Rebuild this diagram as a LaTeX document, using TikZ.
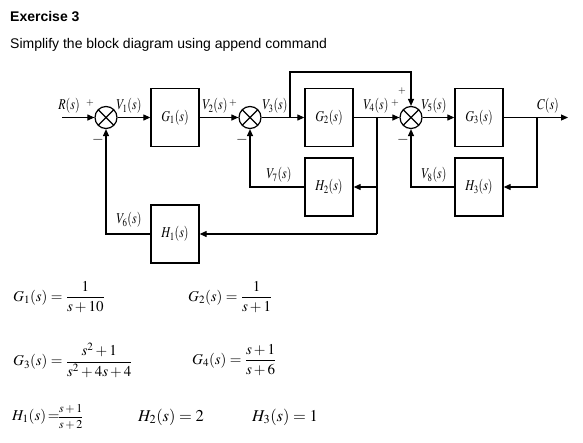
\documentclass[tikz,border=0pt]{standalone}
\usepackage{amsmath}
\usepackage{graphicx}
\usepackage{mathptmx}
\usepackage[no-math]{fontspec}
\setmainfont{Liberation Serif}
\newfontfamily\arial{Liberation Sans}
\usetikzlibrary{arrows.meta}
\newcommand{\lblfont}{\fontsize{15}{17}\selectfont}
\newcommand{\eqfont}{\fontsize{15}{18}\selectfont}
\newcommand{\sgnfont}{\fontsize{10}{12}\selectfont}
\newcommand{\lb}[1]{\scalebox{0.8}[1]{$#1$}}
\tikzset{
  block/.style={draw, line width=1.3pt, minimum width=48pt, minimum height=58pt, inner sep=0pt, font=\lblfont},
  sumj/.style={draw, circle, line width=1.2pt, minimum size=22pt, inner sep=0pt,
    path picture={\draw[line width=1.2pt] (path picture bounding box.north west) -- (path picture bounding box.south east)
      (path picture bounding box.north east) -- (path picture bounding box.south west);}},
  conn/.style={line width=1.1pt},
  arr/.style={conn, -{Triangle[length=7pt,width=6pt]}},
  lab/.style={font=\lblfont, inner sep=0pt},
  sgn/.style={font=\sgnfont, inner sep=0pt},
  eq/.style={font=\eqfont, inner sep=0pt, anchor=west},
  ttl/.style={inner sep=0pt, anchor=base west}
}
\begin{document}
\begin{tikzpicture}[x=1pt,y=-1pt]
\useasboundingbox (0,0) rectangle (583,442);
\fill[white] (0,0) rectangle (583,442);
% title
\node[ttl, font=\arial\bfseries\fontsize{14}{16}\selectfont] (title) at (10,21) {Exercise 3};
\node[ttl, font=\arial\fontsize{14}{16}\selectfont] (sub) at (10,48) {Simplify the block diagram using append command};
% blocks
\node[sumj] (s1) at (106,117.5) {};
\node[block] (G1) at (175,117.5) {\lb{G_1(s)}};
\node[sumj] (s2) at (250,117.5) {};
\node[block] (G2) at (329,117.5) {\lb{G_2(s)}};
\node[sumj] (s3) at (411,117.5) {};
\node[block] (G3) at (479,117.5) {\lb{G_3(s)}};
\node[block] (H2) at (329,187) {\lb{H_2(s)}};
\node[block] (H3) at (479,187) {\lb{H_3(s)}};
\node[block] (H1) at (175,234) {\lb{H_1(s)}};
% coordinates
\coordinate (in) at (62,117.5);
\coordinate (out) at (568,117.5);
\coordinate (b3) at (290,117.5);
\coordinate (b3t) at (290,72);
\coordinate (s3t) at (411,72);
\coordinate (b4) at (377,117.5);
\coordinate (b4m) at (377,187);
\coordinate (b4b) at (377,234);
\coordinate (bc) at (537,117.5);
\coordinate (bcb) at (537,187);
% connectors
\draw[arr] (in) -- (s1);
\draw[arr] (s1) -- (G1);
\draw[arr] (G1) -- (s2);
\draw[arr] (s2) -- (G2);
\draw[arr] (G2) -- (s3);
\draw[arr] (s3) -- (G3);
\draw[arr] (G3) -- (out);
\draw[arr] (b3) -- (b3t) -- (s3t) -- (s3);
\draw[arr] (bc) -- (bcb) -- (H3);
\draw[arr] (H3) -| (s3);
\draw[conn] (b4) -- (b4b);
\draw[arr] (b4b) -- (H1);
\draw[arr] (b4m) -- (H2);
\draw[arr] (H2) -| (s2);
\draw[arr] (H1) -| (s1);
% labels
\node[lab] (lR) at (69,106) {\lb{R(s)}};
\node[sgn] (p1) at (90,103) {$+$};
\node[lab] (m1) at (98,140) {$-$};
\node[lab] (lV1) at (129,106) {\lb{V_1(s)}};
\node[lab] (lV2) at (215,106) {\lb{V_2(s)}};
\node[sgn] (p2) at (233,103) {$+$};
\node[lab] (m2) at (242,140) {$-$};
\node[lab] (lV3) at (275,106) {\lb{V_3(s)}};
\node[lab] (lV7) at (279,175) {\lb{V_7(s)}};
\node[lab] (lV6) at (129,220) {\lb{V_6(s)}};
\node[lab] (lV4) at (376,105.5) {\lb{V_4(s)}};
\node[sgn] (p3) at (395,103) {$+$};
\node[sgn] (p4) at (402,91) {$+$};
\node[lab] (m3) at (403,140) {$-$};
\node[lab] (lV5) at (434,105.5) {\lb{V_5(s)}};
\node[lab] (lC) at (548,105.5) {\lb{C(s)}};
\node[lab] (lV8) at (434,175) {\lb{V_8(s)}};
% equations
\node[eq] (e1) at (13,297) {$G_1(s)=\dfrac{1}{s+10}$};
\node[eq] (e2) at (188,297) {$G_2(s)=\dfrac{1}{s+1}$};
\node[eq] (e3) at (13,360) {$G_3(s)=\dfrac{s^2+1}{s^2+4s+4}$};
\node[eq] (e4) at (192,360) {$G_4(s)=\dfrac{s+1}{s+6}$};
\node[eq] (e5) at (12,417) {$H_1(s)\mskip-2mu=\mskip-2mu${\fontsize{12}{14}\selectfont$\dfrac{s+1}{s+2}$}};
\node[eq, font=\fontsize{16.5}{19}\selectfont] (e6) at (138,417) {$H_2(s)=2$};
\node[eq, font=\fontsize{16.5}{19}\selectfont] (e7) at (252,417) {$H_3(s)=1$};
\end{tikzpicture}
\end{document}
